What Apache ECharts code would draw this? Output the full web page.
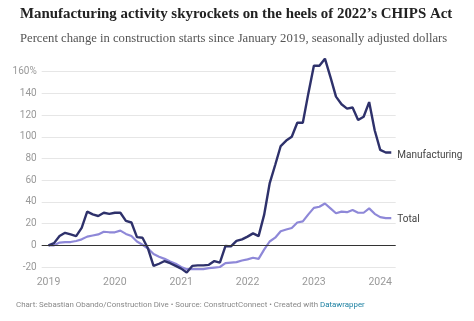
<!DOCTYPE html>
<html>
<head>
<meta charset="utf-8">
<script src="https://cdn.jsdelivr.net/npm/echarts@6/dist/echarts.min.js"></script>
<style>html,body{margin:0;padding:0;background:#fff}#c{width:474px;height:321px}</style>
</head>
<body>
<div id="c"></div>
<script>
// Monthly data, Jan 2019 .. Mar 2024 (index 0 = Jan 2019)
const startYear = 2019;
const yearTicks = [2019, 2020, 2021, 2022, 2023, 2024];
const yTicks = [-20, 0, 20, 40, 60, 80, 100, 120, 140, 160];
const manufacturing = [0, 2, 8.5, 11.5, 10, 8.5, 16, 31, 28.5, 27,
  30, 29, 30, 30, 22.5, 21, 7.5, 7, -3, -19,
  -17, -14.5, -16.5, -19, -21.5, -25, -19, -18.5, -18.5, -18,
  -14.5, -16, -0.7, -1, 4, 5.5, 8, 11, 8.5, 28,
  57, 74, 91.5, 96.5, 100, 113, 113, 140, 165.5, 165.5,
  172, 155, 137, 130, 126, 127, 115.5, 118.5, 132, 106,
  88, 85.5, 85.5];
const total = [0, 0, 2.5, 3, 3, 4, 5.5, 8, 9, 10,
  12.5, 12, 12, 13.5, 10.5, 8.5, 3.5, 0.5, -3, -8,
  -10.5, -12.5, -15, -17, -20, -22, -22, -22, -22, -21,
  -20.5, -20, -16.5, -16, -15.5, -14, -13, -11.5, -12.5, -4,
  3.5, 7, 13, 14.5, 16, 21, 22, 28.5, 34.5, 35.5,
  38.5, 34, 29.5, 31, 30.5, 32.5, 30, 30, 34, 29,
  26, 25, 25];

const chart = echarts.init(document.getElementById('c'), null, {renderer: 'canvas'});
const toPts = arr => arr.map((v, i) => [i, v]);
chart.setOption({
  animation: false,
  grid: {left: 41.7, right: 78.3, top: 71.7, bottom: 54},
  title: [
    {text: 'Manufacturing activity skyrockets on the heels of 2022\u2019s CHIPS Act', left: 15, top: 2,
     textStyle: {fontFamily: 'Liberation Serif', fontWeight: 'bold', fontSize: 14.9, color: '#222'}},
    {text: 'Percent change in construction starts since January 2019, seasonally adjusted dollars', left: 15, top: 27,
     textStyle: {fontFamily: 'Liberation Serif', fontWeight: 'normal', fontSize: 12.65, color: '#555'}}
  ],
  graphic: [{
    type: 'text', left: 16, top: 301,
    style: {
      text: '{a|Chart: Sebastian Obando/Construction Dive \u2022 Source: ConstructConnect \u2022 Created with }{b|Datawrapper}',
      rich: {
        a: {fontFamily: 'Roboto', fontSize: 7.9, fill: '#888'},
        b: {fontFamily: 'Roboto', fontSize: 7.9, fill: '#1d81a2'}
      }
    }
  }],
  xAxis: {
    type: 'value', min: -1.23, max: 62.8,
    axisLine: {show: false}, axisTick: {show: false}, splitLine: {show: false},
    axisLabel: {
      customValues: yearTicks.map(y => (y - startYear) * 12),
      formatter: v => String(startYear + Math.round(v / 12)),
      fontFamily: 'Roboto', fontSize: 10.5, color: '#999', margin: 10
    }
  },
  yAxis: {
    type: 'value', min: -20, max: 160, interval: 20,
    axisLine: {show: false}, axisTick: {show: false},
    splitLine: {lineStyle: {color: '#e6e6e6', width: 1}},
    axisLabel: {
      formatter: v => v === 160 ? '160%' : String(v),
      fontFamily: 'Roboto', fontSize: 10, color: '#999', margin: 5
    }
  },
  series: [
    {
      name: 'Total', type: 'line', data: toPts(total), symbol: 'none', clip: false,
      lineStyle: {color: '#8e88d8', width: 2.2}, itemStyle: {color: '#8e88d8'},
      endLabel: {show: true, formatter: 'Total', fontFamily: 'Roboto', fontSize: 10, color: '#444', distance: 6, offset: [0, 1]},
      markLine: {silent: true, symbol: 'none', label: {show: false},
        lineStyle: {color: '#333', width: 1, type: 'solid'}, data: [{yAxis: 0}]},
      z: 2
    },
    {
      name: 'Manufacturing', type: 'line', data: toPts(manufacturing), symbol: 'none', clip: false,
      lineStyle: {color: '#2e316b', width: 2.4}, itemStyle: {color: '#2e316b'},
      endLabel: {show: true, formatter: 'Manufacturing', fontFamily: 'Roboto', fontSize: 10, color: '#444', distance: 6, offset: [0, 3]},
      z: 3
    }
  ]
});
</script>
</body>
</html>
